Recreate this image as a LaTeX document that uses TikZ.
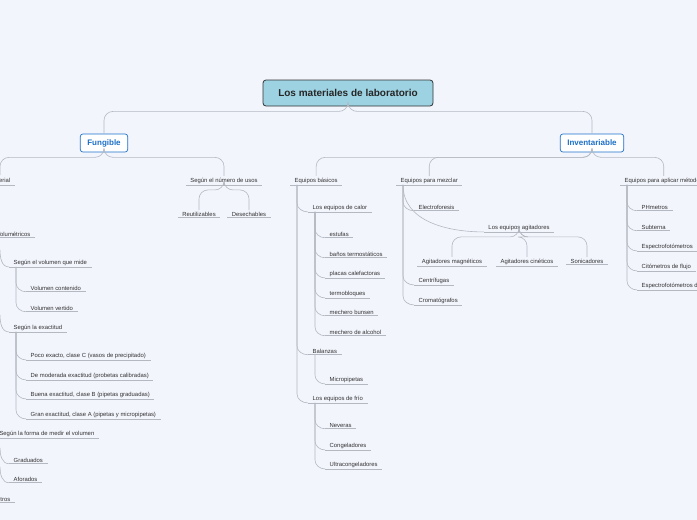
\documentclass[tikz,border=0pt]{standalone}
\usepackage{fontspec}
\setmainfont{Liberation Sans}
\usetikzlibrary{calc}
\definecolor{bg}{HTML}{F3F5FD}
\definecolor{conn}{HTML}{B4B8C0}
\definecolor{txt}{HTML}{333333}
\definecolor{rootf}{HTML}{9DD2E2}
\definecolor{blu}{HTML}{1C6FC8}
\tikzset{
 lf/.style={anchor=base west,inner sep=1.5pt,font=\fontsize{5.9}{6.5}\selectfont,text=txt},
 ulc/.style={draw=conn,line width=0.6pt},
 cn/.style={draw=conn,line width=0.6pt},
 topbox/.style={draw=blu,fill=white,rounded corners=2.5pt,line width=0.7pt,font=\fontsize{8}{9}\selectfont\bfseries,text=blu,minimum height=18pt,inner xsep=7pt},
}
\newcommand\lf[4]{\node[lf] (#1) at (#2,-#3) {#4};
 \draw[ulc] ([xshift=-3pt]#1.south west) -- ([xshift=3pt]#1.south east);}
\newcommand\lfe[4]{\node[lf,anchor=base east] (#1) at (#2,-#3) {#4};
 \draw[ulc] ([xshift=-3pt]#1.south west) -- ([xshift=3pt]#1.south east);}
\newcommand\lfc[4]{\node[lf,anchor=base] (#1) at (#2,-#3) {#4};
 \draw[ulc] ([xshift=-3pt]#1.south west) -- ([xshift=3pt]#1.south east);}
\newcommand\br[2]{\draw[cn] ([xshift=4pt]#1.south west) -- ($(#1.south west |- #2.south)+(4pt,9pt)$) to[out=-90,in=180] ([xshift=-3pt]#2.south west);}
\newcommand\td[2]{\draw[cn,rounded corners=9pt] (#1) -- ++(0,-5pt) -| (#2);}
\begin{document}
\begin{tikzpicture}[x=1pt,y=1pt]
\fill[bg] (0,0) rectangle (697,-520);
\clip (0,0) rectangle (697,-520);
\node[draw=black!80,fill=rootf,rounded corners=3pt,line width=0.8pt,minimum width=170pt,minimum height=26pt,font=\fontsize{10}{11}\selectfont\bfseries,text=black!85] (root) at (348,-93) {Los materiales de laboratorio};
\node[topbox] (fun) at (104,-143) {Fungible};
\node[topbox] (inv) at (592,-143) {Inventariable};
\td{root.south}{fun.north}
\td{root.south}{inv.north}
\lfe{mat}{12}{182}{Según el material}
\lfc{usos}{224}{182}{Según el número de usos}
\coordinate (matt) at (0,-175);
\td{fun.south}{matt}
\td{fun.south}{usos.north}
\lfc{reu}{199}{216}{Reutilizables}
\lfc{des}{249}{216}{Desechables}
\td{usos.south}{reu.north}
\td{usos.south}{des.north}
\lfe{vol}{32}{236}{Volumétricos}
\lf{svm}{12}{264}{Según el volumen que mide}
\lf{vc}{29}{290}{Volumen contenido}
\lf{vv}{29}{310}{Volumen vertido}
\br{svm}{vc}\br{svm}{vv}
\lf{sex}{12}{329}{Según la exactitud}
\lf{e1}{29}{357}{Poco exacto, clase C (vasos de precipitado)}
\lf{e2}{29}{377}{De moderada exactitud (probetas calibradas)}
\lf{e3}{29}{396}{Buena exactitud, clase B (pipetas graduadas)}
\lf{e4}{29}{416}{Gran exactitud, clase A (pipetas y micropipetas)}
\br{sex}{e1}\br{sex}{e2}\br{sex}{e3}\br{sex}{e4}
\draw[cn] (0,-250) to[out=-90,in=180] ([xshift=-3pt]svm.south west);
\draw[cn] (0,-315) to[out=-90,in=180] ([xshift=-3pt]sex.south west);
\lfe{sfm}{96}{435}{Según la forma de medir el volumen}
\lf{gra}{12}{462}{Graduados}
\lf{afo}{12}{481}{Aforados}
\draw[cn] (0,-448) to[out=-90,in=180] ([xshift=-3pt]gra.south west);
\draw[cn] (0,-467) to[out=-90,in=180] ([xshift=-3pt]afo.south west);
\lfe{otr}{12}{501}{Otros}
\lf{eb}{293}{182}{Equipos básicos}
\lf{em}{399}{182}{Equipos para mezclar}
\lf{ea}{623}{182}{Equipos para aplicar métodos}
\td{inv.south}{eb.north}
\td{inv.south}{em.north}
\td{inv.south}{ea.north}
\lf{cal}{311}{209}{Los equipos de calor}
\lf{c1}{328}{236}{estufas}
\lf{c2}{328}{256}{baños termostáticos}
\lf{c3}{328}{275}{placas calefactoras}
\lf{c4}{328}{295}{termobloques}
\lf{c5}{328}{314}{mechero bunsen}
\lf{c6}{328}{334}{mechero de alcohol}
\foreach \c in {c1,c2,c3,c4,c5,c6} {\br{cal}{\c}}
\lf{bal}{311}{353}{Balanzas}
\lf{mic}{328}{381}{Micropipetas}
\br{bal}{mic}
\lf{fri}{311}{400}{Los equipos de frío}
\lf{f1}{328}{427}{Neveras}
\lf{f2}{328}{447}{Congeladores}
\lf{f3}{328}{466}{Ultracongeladores}
\br{fri}{f1}\br{fri}{f2}\br{fri}{f3}
\br{eb}{cal}\br{eb}{bal}\br{eb}{fri}
\lf{ele}{417}{209}{Electroforesis}
\lfc{agi}{519}{229}{Los equipos agitadores}
\lfc{a1}{452}{263}{Agitadores magnéticos}
\lfc{a2}{527}{263}{Agitadores cinéticos}
\lfc{a3}{587}{263}{Sonicadores}
\td{agi.south}{a1.north}\td{agi.south}{a2.north}\td{agi.south}{a3.north}
\lf{cen}{417}{282}{Centrífugas}
\lf{cro}{417}{302}{Cromatógrafos}
\br{em}{ele}\br{em}{cen}\br{em}{cro}
\draw[cn] ([xshift=4pt]em.south west) to[out=-90,in=180] ([xshift=-3pt]agi.south west);
\lf{p1}{640}{209}{PHmetros}
\lf{p2}{640}{229}{Subterna}
\lf{p3}{640}{248}{Espectrofotómetros}
\lf{p4}{640}{268}{Citómetros de flujo}
\lf{p5}{640}{287}{Espectrofotómetros de absorción}
\br{ea}{p1}\br{ea}{p2}\br{ea}{p3}\br{ea}{p4}\br{ea}{p5}
\end{tikzpicture}
\end{document}
